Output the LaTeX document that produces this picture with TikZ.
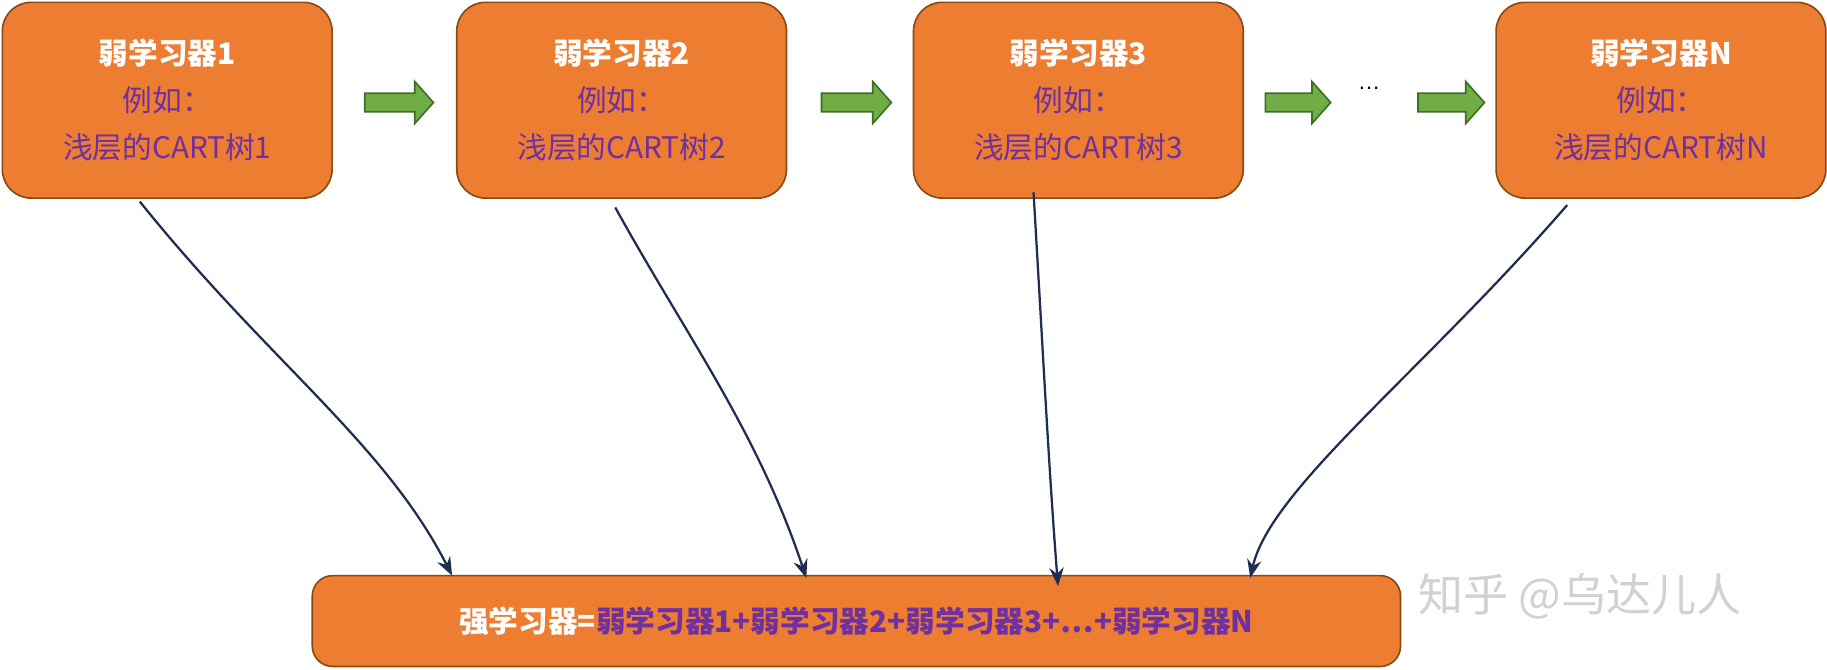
\documentclass[tikz,border=0pt]{standalone}
\usepackage{fontspec}
\setmainfont{Liberation Sans}
\newfontfamily\cjk{Noto Sans CJK SC}
\usetikzlibrary{arrows.meta}
\definecolor{org}{HTML}{ED7D31}
\definecolor{orgd}{HTML}{8A4A14}
\definecolor{pur}{HTML}{7030A0}
\definecolor{grn}{HTML}{70AD47}
\definecolor{grnd}{HTML}{3F6E25}
\definecolor{navy}{HTML}{1F2D50}
\tikzset{
 learner/.style={draw=orgd,line width=0.8pt,fill=org,rounded corners=14pt,minimum width=283*0.02cm,minimum height=168*0.02cm,align=center,font=\cjk\fontsize{14.5}{23}\selectfont,inner sep=0pt},
 strong/.style={draw=orgd,line width=0.8pt,fill=org,rounded corners=10pt,minimum width=934*0.02cm,minimum height=78*0.02cm,font=\cjk\bfseries\fontsize{14.5}{18}\selectfont,inner sep=0pt},
 link/.style={draw=navy,line width=1.1pt,-{Stealth[length=9pt,width=7pt,inset=3pt]}},
 garrow/.style={fill=grn,draw=grnd,line width=0.8pt}
}
\newcommand{\wk}[1]{\textcolor{white}{\bfseries 弱学习器#1}\\\textcolor{pur}{例如：}\\\textcolor{pur}{浅层的CART树#1}}
\newcommand{\garr}[2]{\draw[garrow] (#1,80)--(#2-16,80)--(#2-16,70)--(#2,88)--(#2-16,106)--(#2-16,96)--(#1,96)--cycle;}
\begin{document}
\begin{tikzpicture}[x=0.02cm,y=-0.02cm]
\useasboundingbox[fill=white] (0,0) rectangle (1568,575);
\node[learner] (w1) at (143.5,86) {\wk{1}};
\node[learner] (w2) at (533.5,86) {\wk{2}};
\node[learner] (w3) at (925.5,86) {\wk{3}};
\node[learner] (w4) at (1425.5,86) {\wk{N}};
\node[strong] (s) at (735,533) {\textcolor{white}{强学习器=}\textcolor{pur}{弱学习器1+弱学习器2+弱学习器3+…+弱学习器N}};
\garr{313}{372}
\garr{705}{765}
\garr{1086}{1142}
\garr{1217}{1274}
\node[font=\fontsize{11}{12}\selectfont] (dots) at (1175,76) {…};
\coordinate (a1) at (120,173); \coordinate (b1) at (388,494);
\coordinate (a2) at (528,178); \coordinate (b2) at (692,496);
\coordinate (a3) at (887,165); \coordinate (b3) at (908,503);
\coordinate (a4) at (1345,176); \coordinate (b4) at (1073,496);
\draw[link] (a1) .. controls (230,310) and (330,380) .. (b1);
\draw[link] (a2) .. controls (590,290) and (650,370) .. (b2);
\draw[link] (a3) .. controls (895,300) and (900,400) .. (b3);
\draw[link] (a4) .. controls (1220,320) and (1090,420) .. (b4);
\node[text=black!18,font=\cjk\fontsize{22}{24}\selectfont] (wm) at (1356,512) {知乎 @乌达儿人};
\end{tikzpicture}
\end{document}
